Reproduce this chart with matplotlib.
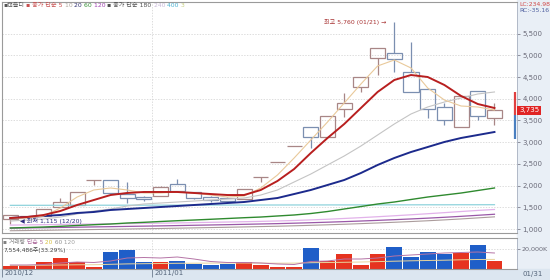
import numpy as np
import matplotlib
matplotlib.use('Agg')
import matplotlib.pyplot as plt
from matplotlib.patches import Rectangle
from matplotlib.transforms import ScaledTranslation

plt.rcParams['font.family'] = ['DejaVu Sans', 'Noto Sans CJK KR']

# daily candles, 2010/12/20 ~ 2011/01/31
dates = ['12/20', '12/21', '12/22', '12/23', '12/24', '12/27', '12/28', '12/29', '12/30',
         '01/03', '01/04', '01/05', '01/06', '01/07', '01/10', '01/11', '01/12', '01/13',
         '01/14', '01/17', '01/18', '01/19', '01/20', '01/21', '01/24', '01/25', '01/26',
         '01/27', '01/28', '01/31']
opens = [1240, 1270, 1300, 1510, 1560, 2125, 2130, 1805, 1740, 1760, 2040, 1850, 1740, 1715, 1690,
         2205, 2535, 2915, 3350, 3120, 3765, 4270, 4940, 5050, 4620, 4230, 3810, 3350, 4180, 3560]
highs = [1330, 1310, 1470, 1715, 1860, 2125, 2140, 2080, 1760, 1980, 2150, 1860, 1760, 1730, 1930,
         2205, 2535, 2915, 3350, 3610, 4130, 4510, 5180, 5760, 5310, 4240, 3900, 4070, 4190, 3900]
lows = [1115, 1250, 1290, 1500, 1550, 2010, 1820, 1600, 1650, 1750, 1860, 1700, 1620, 1630, 1680,
        2090, 2535, 2915, 2870, 3110, 3580, 4160, 4550, 4620, 4150, 3560, 3400, 3340, 3500, 3400]
closes = [1320, 1290, 1460, 1620, 1850, 2125, 1830, 1715, 1690, 1970, 1875, 1715, 1670, 1650, 1920,
          2205, 2535, 2915, 3120, 3600, 3900, 4500, 5170, 4920, 4160, 3760, 3510, 4060, 3600, 3735]
volume = [3500, 3500, 7000, 11000, 7000, 2000, 17000, 19500, 7500, 7500, 8000, 5000, 4500, 5500, 7300,
          4000, 2300, 2300, 20700, 8300, 15000, 4000, 15000, 21700, 12300, 17300, 15000, 15700,
          24000, 7554]  # thousand shares

# moving averages
ma3 = [1253, 1253, 1300, 1484, 1737, 1899, 1945, 1899, 1830, 1830, 1853, 1830, 1783, 1737, 1760,
       1945, 2244, 2636, 3051, 3465, 3903, 4341, 4756, 4894, 4710, 4249, 3972, 3834, 3811, 3742]
ma5 = [1253, 1276, 1323, 1415, 1553, 1668, 1783, 1830, 1853, 1853, 1853, 1830, 1806, 1783, 1783,
       1899, 2106, 2382, 2751, 3097, 3419, 3788, 4157, 4433, 4548, 4502, 4318, 4065, 3880, 3788]
ma10 = [1184, 1207, 1230, 1276, 1346, 1415, 1461, 1530, 1576, 1599, 1622, 1645, 1668, 1691, 1714,
        1783, 1899, 2083, 2267, 2475, 2682, 2912, 3166, 3419, 3650, 3811, 3926, 4018, 4111, 4157]
ma20 = [1253, 1276, 1300, 1323, 1369, 1392, 1438, 1461, 1484, 1507, 1530, 1553, 1576, 1599, 1622,
        1668, 1714, 1806, 1899, 2014, 2129, 2290, 2475, 2636, 2774, 2889, 3005, 3097, 3166, 3235]
ma60 = [1023, 1035, 1046, 1062, 1081, 1099, 1115, 1138, 1154, 1173, 1191, 1207, 1224, 1242, 1260,
        1276, 1300, 1323, 1357, 1403, 1461, 1518, 1576, 1622, 1680, 1737, 1783, 1829, 1887, 1945]
ma120 = [1020, 1025, 1030, 1036, 1042, 1048, 1054, 1060, 1066, 1072, 1079, 1086, 1093, 1100, 1108,
         1116, 1124, 1134, 1145, 1157, 1170, 1184, 1199, 1215, 1232, 1250, 1270, 1292, 1316, 1340]
ma180 = [960, 965, 970, 976, 982, 988, 994, 1000, 1006, 1012, 1019, 1026, 1033, 1040, 1048,
         1056, 1064, 1074, 1085, 1097, 1110, 1124, 1139, 1155, 1172, 1190, 1210, 1232, 1256, 1280]
ma240 = [1090, 1095, 1100, 1105, 1110, 1115, 1120, 1125, 1130, 1135, 1140, 1147, 1154, 1161, 1168,
         1176, 1185, 1196, 1210, 1225, 1243, 1262, 1283, 1305, 1328, 1352, 1377, 1403, 1428, 1450]
ma400 = [1545, 1546, 1546, 1547, 1547, 1548, 1548, 1549, 1549, 1550, 1550, 1551, 1551, 1552, 1552,
         1553, 1553, 1554, 1554, 1555, 1555, 1556, 1556, 1557, 1557, 1558, 1558, 1559, 1559, 1560]
vol_ma5 = [4000, 4000, 4500, 6000, 7000, 6500, 8000, 11000, 11500, 11000, 12000, 10000, 7500, 6500, 6500,
           6000, 5000, 4500, 7500, 8000, 10000, 10000, 11000, 13000, 14000, 15000, 16000, 16500,
           17000, 16000]
vol_ma20 = [3500, 3600, 3800, 4000, 4200, 4300, 4700, 5100, 5300, 5500, 5700, 5800, 5900, 6000, 6000,
            5900, 5800, 5900, 6300, 6500, 6700, 7000, 7400, 7800, 8200, 8500, 8800, 9200, 9500, 9600]
side_bar = [3070, 3630, 4160]   # blue low, split, red high
price_ticks = list(range(1000, 6000, 500))

x = np.arange(len(dates))
o, h, l, c = map(np.array, (opens, highs, lows, closes))
up = c >= o
up_col, dn_col = '#a88686', '#7b8fb0'
cols = np.where(up, up_col, dn_col)

W, H = 550, 280
def rect(x0, y0, x1, y1):
    return [x0 / W, 1 - y1 / H, (x1 - x0) / W, (y1 - y0) / H]

fig = plt.figure(figsize=(5.5, 2.8), dpi=100)
fig.patches.append(Rectangle((517 / W, 0), 33 / W, 1, transform=fig.transFigure,
                             color='#e9eff6', zorder=-10))
fig.patches.append(Rectangle((0, 0), 1, 11 / H, transform=fig.transFigure,
                             color='#dce6f0', zorder=-10))

ax = fig.add_axes(rect(2, 2, 517, 233))
axv = fig.add_axes(rect(2, 238, 517, 269), sharex=ax)

# price panel
ax.set_xlim(-0.5, 30.35)
ax.set_ylim(908, 6230)
for p in price_ticks:
    ax.axhline(p, color='#cfcfcf', lw=0.5, ls=(0, (2, 2)), zorder=0)
ax.axvline(8.5, color='#cfcfcf', lw=0.5, ls=(0, (2, 2)), zorder=0)

body_lo = np.minimum(o, c)
body_hi = np.maximum(o, c)
ax.bar(x, body_hi - body_lo, bottom=body_lo, width=0.9, fill=False,
       edgecolor=cols, linewidth=0.9, zorder=2)
ax.vlines(x, body_hi, h, colors=cols, lw=0.9, zorder=2)
ax.vlines(x, l, body_lo, colors=cols, lw=0.9, zorder=2)

ax.plot(x, ma400, color='#8fd3dc', lw=0.9, zorder=3)
ax.plot(x, ma180, color='#ab9c9c', lw=0.8, zorder=3)
ax.plot(x, ma120, color='#9a58a8', lw=0.9, zorder=3)
ax.plot(x, ma240, color='#e2b2ea', lw=0.9, zorder=3)
ax.plot(x, ma60, color='#2f8a2f', lw=1.0, zorder=3)
ax.plot(x, ma10, color='#c4c4c4', lw=0.8, zorder=3)
ax.plot(x, ma20, color='#1c2a8c', lw=1.4, zorder=3)
ax.plot(x, ma3, color='#e9c99a', lw=0.8, zorder=3)
ax.plot(x, ma5, color='#b81f1f', lw=1.4, zorder=4)

ax.vlines(30.25, side_bar[1], side_bar[2], colors='#e04040', lw=1.6, zorder=4)
ax.vlines(30.25, side_bar[0], side_bar[1], colors='#4a7fc0', lw=1.6, zorder=4)

imax = int(np.argmax(h))
imin = int(np.argmin(l))
ax.text(imax - 0.5, h[imax], '최고 {:,} ({}) →'.format(h[imax], dates[imax]),
        fontsize=4.4, color='#a83232', ha='right', va='center', zorder=5)
ax.text(imin + 0.55, l[imin] + 60, '◀ 최저 {:,} ({})'.format(l[imin], dates[imin]),
        fontsize=4.4, color='#2c2c80', ha='left', va='center', zorder=5)

ax.yaxis.tick_right()
ax.set_yticks(price_ticks)
ax.set_yticklabels(['{:,}'.format(p) for p in price_ticks])
ax.tick_params(axis='y', length=2.5, width=0.5, pad=1.5, labelsize=5,
               colors='#6a6a78')
ax.tick_params(axis='x', length=0, labelbottom=False)
for s in ['top', 'bottom', 'left']:
    ax.spines[s].set_color('#9a9a9a')
    ax.spines[s].set_linewidth(0.8)
ax.spines['right'].set_color('#a8b0c0')
ax.spines['right'].set_linestyle((0, (1, 1)))
ax.spines['right'].set_linewidth(0.6)

ax.text(1.004, c[-1], '{:,}'.format(c[-1]), transform=ax.get_yaxis_transform(),
        fontsize=5, color='white', ha='left', va='center', zorder=6,
        bbox=dict(boxstyle='square,pad=0.25', fc='#e02424', ec='none'))
ax.text(1.004, 0.99, 'LC:234.98', transform=ax.transAxes, fontsize=4.4,
        color='#d04848', ha='left', va='center')
ax.text(1.004, 0.963, 'RC:-35.16', transform=ax.transAxes, fontsize=4.4,
        color='#5060a0', ha='left', va='center')

# volume panel
vcols = np.where(up, '#e6331f', '#1f5ec8')
axv.bar(x, volume, width=0.94, color=vcols, edgecolor='none', zorder=2)
axv.plot(x, vol_ma20, color='#e8d49c', lw=0.7, zorder=3)
axv.plot(x, vol_ma5, color='#b574a6', lw=0.7, zorder=3)
axv.set_ylim(0, 31000)
axv.axhline(20000, color='#cfcfcf', lw=0.5, ls=(0, (2, 2)), zorder=0)
axv.axvline(8.5, color='#cfcfcf', lw=0.5, ls=(0, (2, 2)), zorder=0)
axv.yaxis.tick_right()
axv.set_yticks([20000])
axv.set_yticklabels(['20,000K'])
axv.tick_params(axis='y', length=2.5, width=0.5, pad=1, labelsize=4.6, colors='#6a6a78')
axv.set_xticks([-0.5, 8.5])
axv.set_xticklabels(['2010/12', '2011/01'])
axv.tick_params(axis='x', length=6, width=0.5, pad=-5, labelsize=5,
                colors='#55657a', direction='out')
offset = ScaledTranslation(1.5 / 72, 0, fig.dpi_scale_trans)
for lab in axv.get_xticklabels():
    lab.set_ha('left')
    lab.set_transform(lab.get_transform() + offset)
for s in ['top', 'bottom', 'left']:
    axv.spines[s].set_color('#9a9a9a')
    axv.spines[s].set_linewidth(0.8)
axv.spines['right'].set_color('#a8b0c0')
axv.spines['right'].set_linestyle((0, (1, 1)))
axv.spines['right'].set_linewidth(0.6)
axv.text(1.01, -0.17, dates[-1], transform=axv.transAxes, fontsize=5,
         color='#55657a', ha='left', va='center')


def legend_row(host, x0, y0, parts, size=4.4):
    t = host.text(x0, y0, parts[0][0], color=parts[0][1], fontsize=size, va='center',
                  transform=host.transAxes, zorder=6)
    for s, col in parts[1:]:
        t = host.annotate(s, xy=(1, 0), xycoords=t, va='bottom', ha='left',
                          color=col, fontsize=size, annotation_clip=False, zorder=6)


legend_row(ax, 0.002, 0.985,
           [('▪캔들디', '#555555'), (' ▪ 종가 단순 5', '#c85050'),
            (' 10', '#b0a8a0'), (' 20', '#303070'), (' 60', '#389038'),
            (' 120', '#a040b0'), (' ▪ 종가 단순 180', '#505050'), (' 240', '#c8b8d8'),
            (' 400', '#48b0d0'), (' 3', '#c8d080')])
legend_row(axv, 0.002, 0.86,
           [('▪ 거래량 ', '#808080'), ('단순 5', '#b070a0'), (' 20', '#d8c040'),
            (' 60', '#909090'), (' 120', '#a0a0a0')], size=4.2)
axv.text(0.002, 0.6, '{:,}주(33.29%)'.format(int(volume[-1] * 1000 + 486)),
         transform=axv.transAxes, fontsize=4.2, color='#404040', va='center', zorder=6)

fig.savefig('out.png', dpi=100, facecolor='white')
